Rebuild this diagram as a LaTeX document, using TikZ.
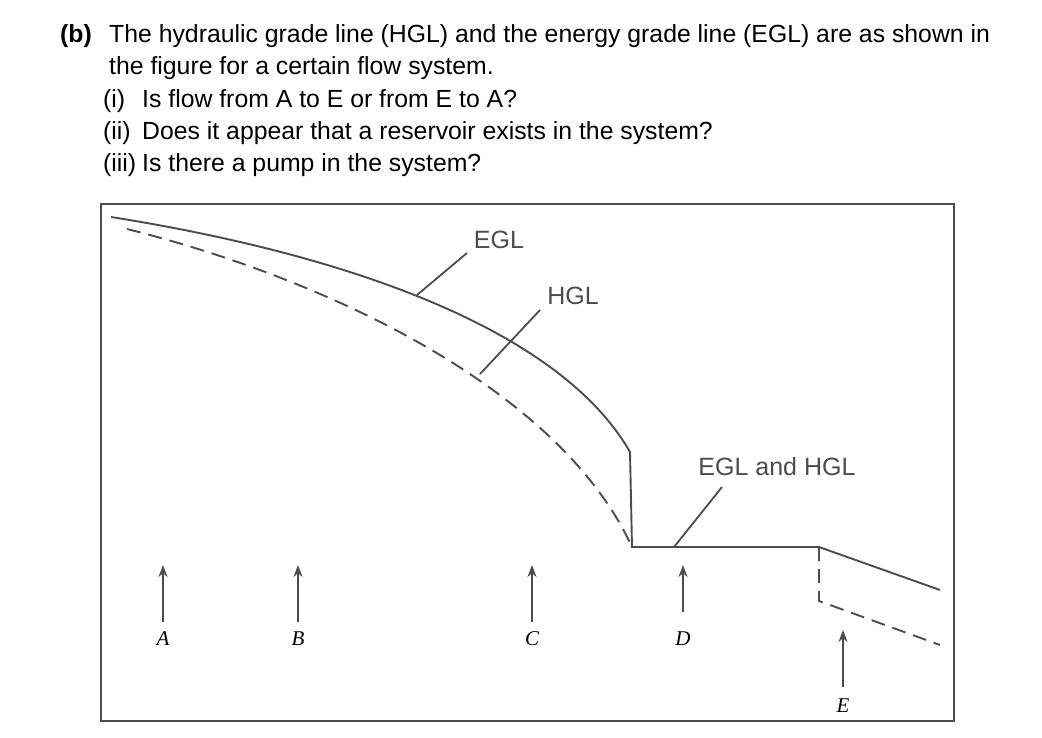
\documentclass[tikz,border=0pt]{standalone}
\usepackage{fontspec}
\setmainfont{Liberation Sans}
\newfontfamily\figserif{Liberation Serif}
\usetikzlibrary{arrows.meta}
\definecolor{linegray}{gray}{0.3}
\definecolor{labelgray}{gray}{0.3}
\tikzset{
  qline/.style={anchor=base west, inner sep=0pt, font=\fontsize{24.8}{29}\selectfont},
  grade/.style={line width=1.9pt, draw=linegray},
  hgl/.style={grade, dash pattern=on 14pt off 8pt},
  leader/.style={line width=1.8pt, draw=linegray},
  lbl/.style={font=\fontsize{25}{25}\selectfont, text=labelgray, inner sep=0pt},
  stn/.style={font=\figserif\itshape\fontsize{21}{21}\selectfont, inner sep=0pt},
  pointer/.style={-{Stealth[length=12pt,width=9pt]}, line width=1.9pt, draw=linegray}
}
\begin{document}
\begin{tikzpicture}[x=1pt, y=-1pt]
    \useasboundingbox (0,0) rectangle (1042,738);
    % question text
    \node[qline] (qb) at (60,43) {\textbf{(b)}};
    \node[qline] (q1) at (109,43) {The hydraulic grade line (HGL) and the energy grade line (EGL) are as shown in};
    \node[qline] (q2) at (109,75) {the figure for a certain flow system.};
    \node[qline] (qi) at (103,108) {(i)};
    \node[qline] (qit) at (142,108) {Is flow from A to E or from E to A?};
    \node[qline] (qii) at (103,140) {(ii)};
    \node[qline] (qiit) at (142,140) {Does it appear that a reservoir exists in the system?};
    \node[qline] (qiii) at (103,172) {(iii)};
    \node[qline] (qiiit) at (142,172) {Is there a pump in the system?};
    % figure frame
    \draw[line width=1.6pt, draw=linegray] (101,204) rectangle (954,721);
    % energy grade line
    \draw[grade] (111,217) .. controls (350,255) and (560,330) .. (630,452)
        -- (632,547) -- (819,547) -- (940,590);
    % hydraulic grade line
    \draw[hgl] (127,229) .. controls (330,280) and (560,390) .. (632,547);
    \draw[hgl] (819,547) -- (819,601) -- (940,645);
    % labels
    \node[lbl] (egl) at (499,240) {EGL};
    \node[lbl] (hgl) at (573,296) {HGL};
    \node[lbl] (both) at (777,467) {EGL and HGL};
    \coordinate (eglfoot) at (417,295);
    \coordinate (egltop) at (467,253);
    \coordinate (hglfoot) at (480,374);
    \coordinate (hgltop) at (540,310);
    \coordinate (bothfoot) at (674,547);
    \coordinate (bothtop) at (722,487);
    \draw[leader] (eglfoot) -- (egltop);
    \draw[leader] (hglfoot) -- (hgltop);
    \draw[leader] (bothfoot) -- (bothtop);
    % stations
    \node[stn] (A) at (163,639) {A};
    \node[stn] (B) at (298,639) {B};
    \node[stn] (C) at (532,639) {C};
    \node[stn] (D) at (683,639) {D};
    \node[stn] (E) at (843,706) {E};
    \coordinate (tipA) at (163,565);
    \coordinate (tipB) at (298,565);
    \coordinate (tipC) at (532,565);
    \coordinate (tipD) at (683,565);
    \coordinate (tipE) at (843,630);
    \draw[pointer] (A) ++(0,-17) -- (tipA);
    \draw[pointer] (B) ++(0,-17) -- (tipB);
    \draw[pointer] (C) ++(0,-17) -- (tipC);
    \draw[pointer] (D) ++(0,-27) -- (tipD);
    \draw[pointer] (E) ++(0,-19) -- (tipE);
\end{tikzpicture}
\end{document}
